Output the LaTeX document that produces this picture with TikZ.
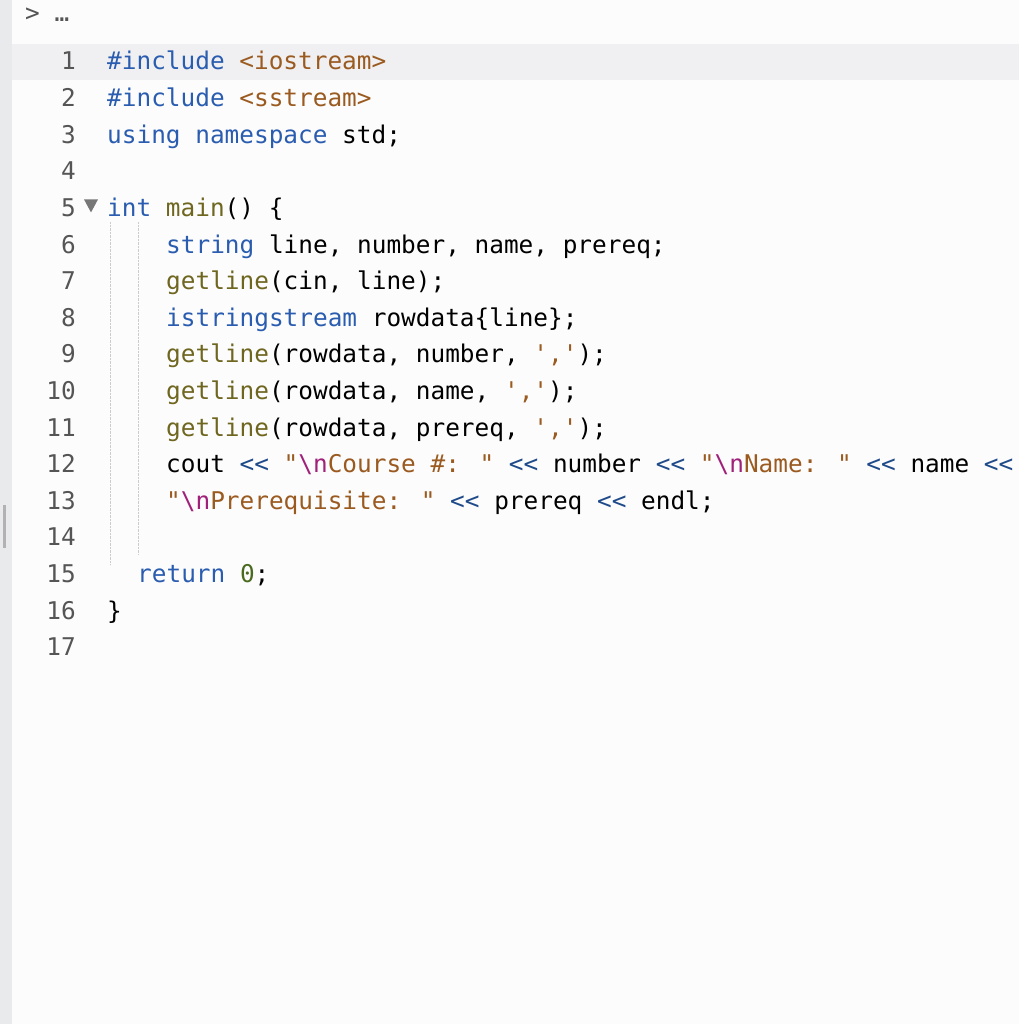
\documentclass[tikz,border=0pt]{standalone}
\usepackage{fontspec}
\newfontfamily\code{DejaVu Sans Mono}
\definecolor{bg}{HTML}{FCFCFC}
\definecolor{strip}{HTML}{E9EAEC}
\definecolor{hl}{HTML}{F0F0F2}
\definecolor{kw}{HTML}{2A5DB0}
\definecolor{st}{HTML}{9A5A20}
\definecolor{fn}{HTML}{6F6620}
\definecolor{es}{HTML}{A0207A}
\definecolor{nm}{HTML}{4A6A20}
\definecolor{op}{HTML}{1F4A8A}
\definecolor{ln}{HTML}{555555}
\newcommand\K[1]{\textcolor{kw}{#1}}
\newcommand\Sg[1]{\textcolor{st}{#1}}
\newcommand\F[1]{\textcolor{fn}{#1}}
\newcommand\E[1]{\textcolor{es}{#1}}
\newcommand\N[1]{\textcolor{nm}{#1}}
\newcommand\Op[1]{\textcolor{op}{#1}}
\begin{document}
\begin{tikzpicture}[x=1pt,y=-1pt,
  codeline/.style={anchor=base west,inner sep=0pt,font=\code\fontsize{24.4}{24.4}\selectfont,text=black},
  lnum/.style={anchor=base east,inner sep=0pt,font=\code\fontsize{24.4}{24.4}\selectfont,text=ln}]
\useasboundingbox (0,0) rectangle (1019,1024);
\fill[bg] (0,0) rectangle (1019,1024);
\fill[strip] (0,0) rectangle (12,1024);
\fill[hl] (12,44) rectangle (1019,80);
\fill[gray!60] (3,505) rectangle (6,548);
\node[codeline,text=ln] (top) at (25,22) {> …};
\foreach \i in {1,...,17} {
  \node[lnum] (n\i) at (76,{70+(\i-1)*36.6}) {\i};
}
\fill[ln!80] (84,{70+4*36.6-17}) -- (98,{70+4*36.6-17}) -- (91,{70+4*36.6-4}) -- cycle;
\draw[gray!40,densely dotted] (110,222) -- (110,565);
\draw[gray!40,densely dotted] (138,222) -- (138,555);
\def\y#1{{70+(#1-1)*36.6}}
\node[codeline] (c1) at (107,\y1) {\K{\#include} \Sg{<iostream>}};
\node[codeline] (c2) at (107,\y2) {\K{\#include} \Sg{<sstream>}};
\node[codeline] (c3) at (107,\y3) {\K{using} \K{namespace} std;};
\node[codeline] (c5) at (107,\y5) {\K{int} \F{main}() \{};
\node[codeline] (c6) at (166,\y6) {\K{string} line, number, name, prereq;};
\node[codeline] (c7) at (166,\y7) {\F{getline}(cin, line);};
\node[codeline] (c8) at (166,\y8) {\K{istringstream} rowdata\{line\};};
\node[codeline] (c9) at (166,\y9) {\F{getline}(rowdata, number, \Sg{','});};
\node[codeline] (c10) at (166,\y{10}) {\F{getline}(rowdata, name, \Sg{','});};
\node[codeline] (c11) at (166,\y{11}) {\F{getline}(rowdata, prereq, \Sg{','});};
\node[codeline] (c12) at (166,\y{12}) {cout \Op{<<} \Sg{"\E{\textbackslash n}Course \#: "} \Op{<<} number \Op{<<} \Sg{"\E{\textbackslash n}Name: "} \Op{<<} name \Op{<<}};
\node[codeline] (c13) at (166,\y{13}) {\Sg{"\E{\textbackslash n}Prerequisite: "} \Op{<<} prereq \Op{<<} endl;};
\node[codeline] (c15) at (137,\y{15}) {\K{return} \N{0};};
\node[codeline] (c16) at (107,\y{16}) {\}};
\end{tikzpicture}
\end{document}
